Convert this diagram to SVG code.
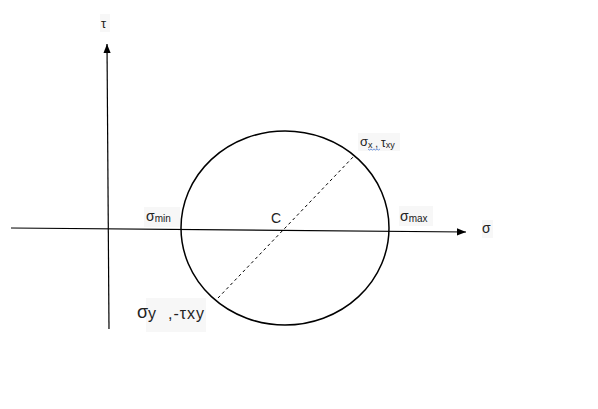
<svg xmlns="http://www.w3.org/2000/svg" width="598" height="409" viewBox="0 0 598 409">
<defs>
<style>
.ax{stroke:#000;stroke-width:1.2;fill:none}
.t{font-family:"Liberation Sans",Arial,sans-serif;fill:#222}
.bg{fill:#f7f7f7}
</style>
<marker id="ah" viewBox="0 0 10 10" refX="10" refY="5" markerWidth="9" markerHeight="9" markerUnits="userSpaceOnUse" orient="auto">
<path d="M0,1 L10,5 L0,9 Z" fill="#000"/>
</marker>
</defs>
<rect width="598" height="409" fill="#fff"/>
<g id="connectors">
<line class="ax" x1="11" y1="228" x2="466" y2="232" marker-end="url(#ah)"/>
<line class="ax" x1="109" y1="329" x2="107" y2="44" marker-end="url(#ah)"/>
<line x1="218" y1="298" x2="355" y2="155" stroke="#000" stroke-width="1" stroke-dasharray="3,3"/>
</g>
<g id="circle">
<ellipse cx="285" cy="228" rx="104" ry="97" fill="none" stroke="#000" stroke-width="1.5"/>
</g>
<g id="tau-label">
<rect class="bg" x="100" y="14" width="10" height="18"/>
<text class="t" x="101" y="28" font-size="13">τ</text>
</g>
<g id="sigma-label">
<rect class="bg" x="482" y="220" width="11" height="18"/>
<text class="t" x="482" y="233" font-size="14">σ</text>
</g>
<g id="C-label">
<text class="t" x="271" y="223" font-size="14">C</text>
</g>
<g id="smin-label">
<rect class="bg" x="144" y="207" width="36" height="20"/>
<text class="t" x="146" y="221" font-size="14">σ<tspan font-size="10" dy="1">min</tspan></text>
</g>
<g id="smax-label">
<rect class="bg" x="399" y="206" width="34" height="20"/>
<text class="t" x="400" y="221" font-size="14">σ<tspan font-size="10" dy="1">max</tspan></text>
</g>
<g id="sx-label">
<rect class="bg" x="358" y="133" width="42" height="18"/>
<text class="t" x="360" y="146" font-size="13">σ<tspan font-size="9" dy="2">x</tspan><tspan font-size="10" dy="-1"> , </tspan><tspan font-size="12" dy="0">τ</tspan><tspan font-size="9" dy="1">xy</tspan></text>
<path d="M368,149 q1.5,2 3,0 q1.5,2 3,0 q1.5,2 3,0 q1.5,2 3,0" stroke="#4a7ad6" stroke-width="0.8" fill="none"/>
</g>
<g id="sy-label">
<rect class="bg" x="146" y="298" width="60" height="34"/>
<text class="t" x="137" y="318" font-size="18">σ<tspan font-size="16" dy="1" letter-spacing="1" xml:space="preserve">y  ,-τxy</tspan></text>
</g>
</svg>
